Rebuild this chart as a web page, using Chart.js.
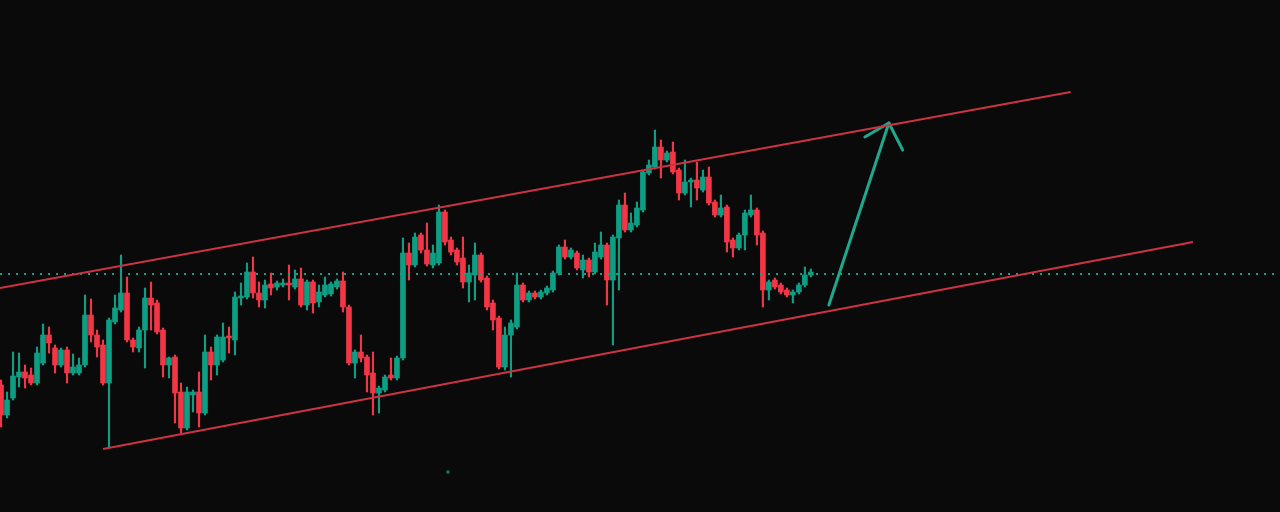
<!DOCTYPE html>
<html>
<head>
<meta charset="utf-8">
<script src="https://cdn.jsdelivr.net/npm/chart.js@4.4.1/dist/chart.umd.min.js"></script>
<style>
  html, body { margin: 0; padding: 0; background: #0a0a0a; }
  #wrap { width: 1280px; height: 512px; }
</style>
</head>
<body>
<div id="wrap"><canvas id="chart"></canvas></div>
<script>
// candle prices (chart units), one entry per bar
const opens = [127, 97, 114, 135, 140, 137, 129, 149, 177, 164, 147, 162, 139, 139, 147, 197, 177, 167, 129, 190,
  202, 219, 172, 164, 182, 214, 209, 182, 147, 155, 120, 84, 117, 120, 99, 160, 147, 152, 176, 172,
  214, 215, 240, 219, 212, 228, 225, 227, 229, 225, 233, 207, 230, 210, 217, 218, 225, 231, 205, 149,
  160, 155, 139, 119, 122, 137, 134, 154, 259, 247, 277, 262, 247, 249, 300, 272, 262, 254, 230, 237,
  257, 234, 209, 194, 145, 177, 185, 227, 212, 219, 215, 219, 222, 239, 265, 255, 259, 242, 252, 240,
  255, 267, 232, 274, 307, 282, 287, 302, 339, 345, 365, 352, 360, 342, 319, 330, 332, 322, 335, 310,
  297, 305, 272, 264, 277, 297, 302, 279, 222, 232, 227, 222, 217, 220, 227, 237];
const closes = [97, 112, 136, 140, 134, 129, 159, 177, 169, 147, 162, 139, 145, 147, 197, 177, 165, 129, 192, 204,
  219, 172, 165, 182, 214, 207, 180, 147, 154, 119, 84, 120, 120, 99, 160, 147, 175, 175, 174, 215,
  216, 240, 219, 212, 227, 224, 229, 229, 227, 233, 207, 230, 209, 220, 227, 228, 231, 205, 149, 160,
  154, 137, 119, 124, 135, 134, 154, 259, 247, 275, 262, 248, 259, 300, 270, 260, 250, 230, 239, 257,
  232, 205, 192, 145, 177, 189, 227, 212, 219, 215, 220, 224, 239, 265, 255, 262, 244, 252, 240, 260,
  267, 232, 275, 307, 282, 289, 304, 340, 347, 365, 352, 359, 340, 319, 330, 332, 324, 335, 309, 297,
  304, 270, 264, 277, 299, 302, 277, 222, 230, 225, 220, 217, 220, 227, 237, 240];
const highs = [132, 120, 160, 159, 147, 144, 165, 188, 185, 167, 164, 165, 158, 154, 217, 213, 182, 172, 194, 217,
  257, 235, 174, 185, 224, 230, 212, 184, 155, 157, 129, 125, 122, 140, 177, 165, 177, 189, 185, 220,
  229, 249, 255, 230, 232, 239, 231, 233, 247, 242, 244, 232, 232, 227, 235, 230, 233, 240, 207, 162,
  177, 157, 160, 126, 137, 154, 156, 274, 269, 279, 279, 289, 267, 307, 302, 275, 264, 275, 247, 269,
  259, 236, 212, 196, 185, 192, 239, 229, 221, 221, 222, 226, 241, 267, 272, 264, 261, 257, 254, 269,
  280, 269, 277, 312, 319, 299, 310, 342, 352, 382, 372, 361, 370, 344, 352, 334, 350, 342, 345, 312,
  317, 307, 274, 279, 302, 317, 304, 281, 232, 234, 229, 224, 222, 229, 245, 243];
const lows = [85, 94, 112, 125, 124, 127, 127, 147, 159, 139, 145, 129, 137, 137, 145, 170, 155, 127, 65, 188,
  200, 170, 160, 160, 144, 182, 178, 135, 134, 89, 79, 82, 100, 85, 97, 132, 137, 150, 159, 157,
  207, 213, 214, 205, 204, 217, 222, 225, 212, 223, 205, 202, 199, 205, 215, 216, 223, 200, 147, 134,
  150, 120, 97, 99, 120, 132, 132, 152, 232, 245, 259, 246, 244, 247, 267, 257, 247, 224, 210, 212,
  230, 202, 182, 143, 142, 135, 183, 210, 210, 213, 213, 217, 220, 237, 253, 253, 242, 234, 235, 238,
  253, 207, 167, 222, 280, 280, 285, 300, 337, 343, 334, 350, 338, 312, 317, 305, 312, 320, 307, 295,
  295, 260, 255, 262, 262, 295, 267, 205, 212, 223, 218, 215, 209, 218, 225, 235];

// drawn levels
const lastPrice = 238;
const upperChannel = [[-0.17, 224], [178.3, 420]];
const lowerChannel = [[17, 63], [198.7, 270]];
const arrowShaft = [[138, 207], [148, 389]];
const arrowHead = [[144, 375], [148, 389], [150.3, 362]];
const markerDot = [[74.5, 40]];

const upColor = '#0d9e84';
const downColor = '#f23645';

const idx = opens.map((_, i) => i);
const colors = idx.map(i => closes[i] >= opens[i] ? upColor : downColor);
const pts = arr => arr.map(p => ({ x: p[0], y: p[1] }));

const ctx = document.getElementById('chart');

new Chart(ctx, {
  type: 'bar',
  data: {
    datasets: [
      {
        label: 'wicks',
        data: idx.map(i => ({ x: i, y: [lows[i], highs[i]] })),
        backgroundColor: colors,
        barThickness: 1.5,
        grouped: false,
        borderWidth: 0,
        order: 3
      },
      {
        label: 'bodies',
        data: idx.map(i => ({ x: i, y: [opens[i], closes[i]] })),
        backgroundColor: colors,
        barThickness: 5,
        minBarLength: 2,
        grouped: false,
        borderWidth: 0,
        order: 2
      },
      {
        type: 'line',
        label: 'last',
        data: pts([[-0.17, lastPrice], [213.2, lastPrice]]),
        borderColor: '#1a9c84',
        borderWidth: 2,
        borderDash: [2, 6],
        pointRadius: 0,
        order: 1
      },
      {
        type: 'line',
        label: 'upper',
        data: pts(upperChannel),
        borderColor: '#cc3344',
        borderWidth: 2,
        pointRadius: 0,
        order: 0
      },
      {
        type: 'line',
        label: 'lower',
        data: pts(lowerChannel),
        borderColor: '#cc3344',
        borderWidth: 2,
        pointRadius: 0,
        order: 0
      },
      {
        type: 'line',
        label: 'arrow',
        data: pts(arrowShaft),
        borderColor: '#1fa88c',
        borderWidth: 3,
        borderCapStyle: 'round',
        pointRadius: 0,
        order: 0
      },
      {
        type: 'line',
        label: 'arrowhead',
        data: pts(arrowHead),
        borderColor: '#1fa88c',
        borderWidth: 3,
        borderCapStyle: 'round',
        borderJoinStyle: 'round',
        pointRadius: 0,
        order: 0
      },
      {
        type: 'line',
        label: 'dot',
        data: pts(markerDot),
        showLine: false,
        pointRadius: 1.8,
        pointBackgroundColor: '#137a66',
        pointBorderWidth: 0,
        order: 0
      }
    ]
  },
  options: {
    responsive: true,
    maintainAspectRatio: false,
    animation: false,
    devicePixelRatio: 1,
    layout: { padding: 0, autoPadding: false },
    scales: {
      x: { type: 'linear', display: false, offset: false, min: -0.17, max: 213.2 },
      y: { type: 'linear', display: false, min: 0, max: 512 }
    },
    plugins: {
      legend: { display: false },
      tooltip: { enabled: false }
    }
  }
});
</script>
</body>
</html>
